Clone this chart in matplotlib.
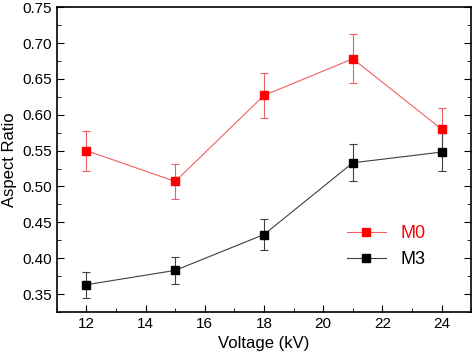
import matplotlib
matplotlib.use("Agg")
import matplotlib.pyplot as plt
from matplotlib.lines import Line2D

plt.rcParams['font.family'] = ['Liberation Sans', 'DejaVu Sans']

voltage = [12, 15, 18, 21, 24]
m0 = [0.550, 0.507, 0.627, 0.678, 0.580]
m0_err = [0.028, 0.025, 0.031, 0.034, 0.030]
m3 = [0.363, 0.383, 0.433, 0.533, 0.548]
m3_err = [0.018, 0.019, 0.021, 0.026, 0.027]

fig = plt.figure(figsize=(4.74, 3.59), dpi=100)
ax = fig.add_axes([0.120, 0.131, 0.874, 0.849])

ax.errorbar(voltage, m0, yerr=m0_err, color='#f06060', marker='s', markersize=6,
            mfc='red', mec='red', lw=0.8, elinewidth=0.8, capsize=3, capthick=0.8)
ax.errorbar(voltage, m3, yerr=m3_err, color='#404040', marker='s', markersize=6,
            mfc='black', mec='black', lw=0.8, elinewidth=0.8, capsize=3, capthick=0.8)

ax.set_xlim(11, 25)
ax.set_ylim(0.325, 0.75)
ax.set_xticks([12, 14, 16, 18, 20, 22, 24])
ax.set_xticks(range(11, 26), minor=True)
ax.set_yticks([0.35, 0.40, 0.45, 0.50, 0.55, 0.60, 0.65, 0.70, 0.75])
ax.set_yticks([0.325 + 0.025 * i for i in range(18)], minor=True)
ax.yaxis.set_major_formatter(matplotlib.ticker.FormatStrFormatter('%.2f'))
ax.tick_params(which='both', direction='in', labelsize=11, right=True, top=False)
ax.tick_params(which='major', length=5)
ax.tick_params(which='minor', length=3)
for s in ax.spines.values():
    s.set_linewidth(1.2)

ax.set_xlabel('Voltage (kV)', fontsize=12)
ax.set_ylabel('Aspect Ratio', fontsize=12)

handles = [
    Line2D([], [], color='#f06060', lw=0.8, marker='s', markersize=6, mfc='red', mec='red'),
    Line2D([], [], color='#404040', lw=0.8, marker='s', markersize=6, mfc='black', mec='black'),
]
leg = ax.legend(handles, ['M0', 'M3'], loc='lower right', bbox_to_anchor=(0.93, 0.09),
                frameon=False, fontsize=13, handlelength=2.2, labelspacing=0.5)
leg.get_texts()[0].set_color('red')

fig.savefig('out.png', dpi=100)
